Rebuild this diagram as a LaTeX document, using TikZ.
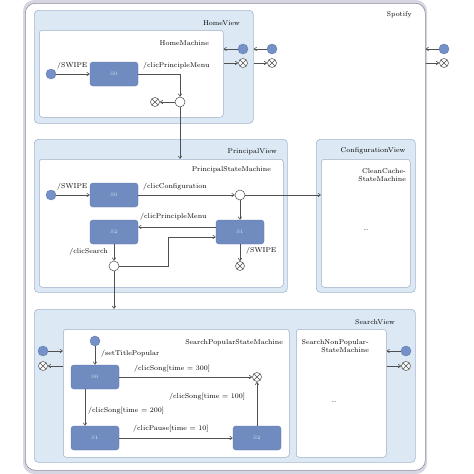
\documentclass[tikz,border=0pt]{standalone}
\usetikzlibrary{arrows.meta}

\definecolor{viewfill}{HTML}{DCE9F5}
\definecolor{viewline}{HTML}{A3B6CF}
\definecolor{machline}{HTML}{9DAEC6}
\definecolor{statefill}{HTML}{6F8BC0}
\definecolor{stateline}{HTML}{5F79AD}
\definecolor{dotfill}{HTML}{7592C8}
\definecolor{lineclr}{HTML}{505050}
\definecolor{outerline}{HTML}{8E8E9E}
\definecolor{shadowclr}{HTML}{D6D6E2}

\tikzset{
    view/.style={draw=viewline, fill=viewfill, rounded corners=4pt, anchor=north west, inner sep=0pt, line width=0.6pt},
    machine/.style={draw=machline, fill=white, rounded corners=3pt, anchor=north west, inner sep=0pt, line width=0.5pt},
    statebox/.style={draw=stateline, fill=statefill, rounded corners=3pt, minimum width=48pt, minimum height=24pt, inner sep=0pt, text=white!80!statefill, font=\fontsize{5}{6}\selectfont},
    initdot/.style={circle, draw=stateline, fill=dotfill, minimum size=10pt, inner sep=0pt},
    finaldot/.style={circle, draw=lineclr, fill=white, minimum size=9pt, inner sep=0pt, line width=0.5pt,
        path picture={\draw[lineclr, line width=0.5pt] (path picture bounding box.north west) -- (path picture bounding box.south east)
            (path picture bounding box.north east) -- (path picture bounding box.south west);}},
    junct/.style={circle, draw=lineclr, fill=white, minimum size=10pt, inner sep=0pt, line width=0.5pt},
    lbl/.style={font=\fontsize{7}{8}\selectfont, inner sep=0pt, text=black},
    trans/.style={draw=lineclr, line width=0.6pt, -{Straight Barb[length=2.5pt,width=3.5pt]}}
}

\begin{document}
\begin{tikzpicture}[x=1pt, y=-1pt]
    \useasboundingbox (0,0) rectangle (474,474);
    % outer machine
    \fill[shadowclr, rounded corners=11pt] (23,0) rectangle (427,474);
    \node[draw=outerline, fill=white, rounded corners=10pt, anchor=north west, inner sep=0pt, line width=0.6pt,
        minimum width=400pt, minimum height=467pt] (spotify) at (25,3) {};
    \node[lbl, anchor=east] at (412,15) {Spotify};

    % views and their machines
    \node[view, minimum width=219pt, minimum height=113pt] (homeview) at (34,10) {};
    \node[machine, minimum width=184pt, minimum height=87pt] (homesm) at (39,30) {};
    \node[view, minimum width=253pt, minimum height=153pt] (principalview) at (34,139) {};
    \node[machine, minimum width=244pt, minimum height=128pt] (principalsm) at (39,159) {};
    \node[view, minimum width=99pt, minimum height=153pt] (configview) at (316,139) {};
    \node[machine, minimum width=89pt, minimum height=128pt] (cleansm) at (321,159) {};
    \node[view, minimum width=381pt, minimum height=153pt] (searchview) at (34,309) {};
    \node[machine, minimum width=226pt, minimum height=128pt] (popsm) at (63,329) {};
    \node[machine, minimum width=90pt, minimum height=128pt] (nonpopsm) at (296,329) {};

    \node[lbl, anchor=east] at (240,23) {HomeView};
    \node[lbl, anchor=east] at (209,43) {HomeMachine};
    \node[lbl, anchor=east] at (277,152) {PrincipalView};
    \node[lbl, anchor=east] at (271,170) {PrincipalStateMachine};
    \node[lbl] at (373,151) {ConfigurationView};
    \node[lbl, anchor=north east, align=right] at (406,168) {CleanCache-\\StateMachine};
    \node[lbl] at (366,230) {\dots};
    \node[lbl, anchor=east] at (395,322) {SearchView};
    \node[lbl, anchor=east] at (283,343) {SearchPopularStateMachine};
    \node[lbl, anchor=north east, align=right] at (369,339) {SearchNonPopular-\\StateMachine};
    \node[lbl] at (334,402) {\dots};

    % HomeMachine
    \node[initdot] (hinit) at (51,74) {};
    \node[statebox] (hs0) at (114,74) {S0};
    \node[junct] (hjunct) at (180,102) {};
    \node[finaldot] (hfinal) at (155,102) {};
    \draw[trans] (hinit) -- (hs0);
    \node[lbl, anchor=west] at (57,66) {/SWIPE};
    \draw[trans] (hs0.east) -| (hjunct.north);
    \node[lbl, anchor=west] at (143,66) {/clicPrincipleMenu};
    \draw[trans] (hjunct) -- (hfinal);
    \draw[trans] (hjunct.south) -- (hjunct |- principalsm.north);

    % entry and exit points on the right
    \node[initdot] (hvin) at (243,49) {};
    \node[finaldot] (hvout) at (243,63) {};
    \node[initdot] (hin) at (272,49) {};
    \node[finaldot] (hout) at (272,63) {};
    \node[initdot] (spin) at (444,49) {};
    \node[finaldot] (spout) at (444,63) {};
    \draw[trans] (hvin) -- (hvin -| homesm.east);
    \draw[trans] (hvout -| homesm.east) -- (hvout);
    \draw[trans] (hin) -- (hin -| homeview.east);
    \draw[trans] (hout -| homeview.east) -- (hout);
    \draw[trans] (spin) -- (spin -| spotify.east);
    \draw[trans] (spout -| spotify.east) -- (spout);

    % PrincipalStateMachine
    \node[initdot] (pinit) at (51,195) {};
    \node[statebox] (ps0) at (114,195) {S0};
    \node[junct] (pjunct) at (240,195) {};
    \node[statebox] (ps1) at (240,232) {S1};
    \node[statebox] (ps2) at (114,232) {S2};
    \node[junct] (psearch) at (114,266) {};
    \node[finaldot] (pfinal) at (240,266) {};
    \draw[trans] (pinit) -- (ps0);
    \node[lbl, anchor=west] at (57,187) {/SWIPE};
    \draw[trans] (ps0) -- (pjunct);
    \node[lbl, anchor=west] at (143,187) {/clicConfiguration};
    \draw[trans] (pjunct) -- (pjunct -| cleansm.west);
    \draw[trans] (pjunct) -- (ps1);
    \draw[trans] ([yshift=5pt]ps1.west) -- ([yshift=5pt]ps2.east);
    \node[lbl, anchor=west] at (140,217) {/clicPrincipleMenu};
    \draw[trans] (ps2) -- (psearch);
    \node[lbl, anchor=east] at (108,252) {/clicSearch};
    \draw[trans] (psearch.east) -- ++(49,0) |- ([yshift=-5pt]ps1.west);
    \draw[trans] (ps1) -- (pfinal);
    \node[lbl, anchor=west] at (246,251) {/SWIPE};
    \draw[trans] (psearch.south) -- (psearch |- searchview.north);

    % SearchView entry and exit points
    \node[initdot] (sinit) at (43,351) {};
    \node[finaldot] (sfinal) at (43,366) {};
    \node[initdot] (sninit) at (406,351) {};
    \node[finaldot] (snfinal) at (406,366) {};
    \draw[trans] (sinit) -- (sinit -| popsm.west);
    \draw[trans] (sfinal -| popsm.west) -- (sfinal);
    \draw[trans] (sninit) -- (sninit -| nonpopsm.east);
    \draw[trans] (snfinal -| nonpopsm.east) -- (snfinal);

    % SearchPopularStateMachine
    \node[initdot] (qinit) at (95,341) {};
    \node[statebox] (qs0) at (95,377) {S0};
    \node[statebox] (qs1) at (95,438) {S1};
    \node[statebox] (qs2) at (257,438) {S2};
    \node[finaldot] (qfinal) at (257,377) {};
    \draw[trans] (qinit) -- (qs0);
    \node[lbl, anchor=west] at (101,354) {/setTitlePopular};
    \draw[trans] (qs0) -- (qfinal);
    \node[lbl, anchor=west] at (134,369) {/clicSong[time = 300]};
    \draw[trans] ([xshift=-10pt]qs0.south) -- ([xshift=-10pt]qs1.north);
    \node[lbl, anchor=west] at (88,411) {/clicSong[time = 200]};
    \draw[trans] (qs1) -- (qs2);
    \node[lbl, anchor=west] at (133,429) {/clicPause[time = 10]};
    \draw[trans] (qs2) -- (qfinal);
    \node[lbl, anchor=west] at (169,397) {/clicSong[time = 100]};
\end{tikzpicture}
\end{document}
